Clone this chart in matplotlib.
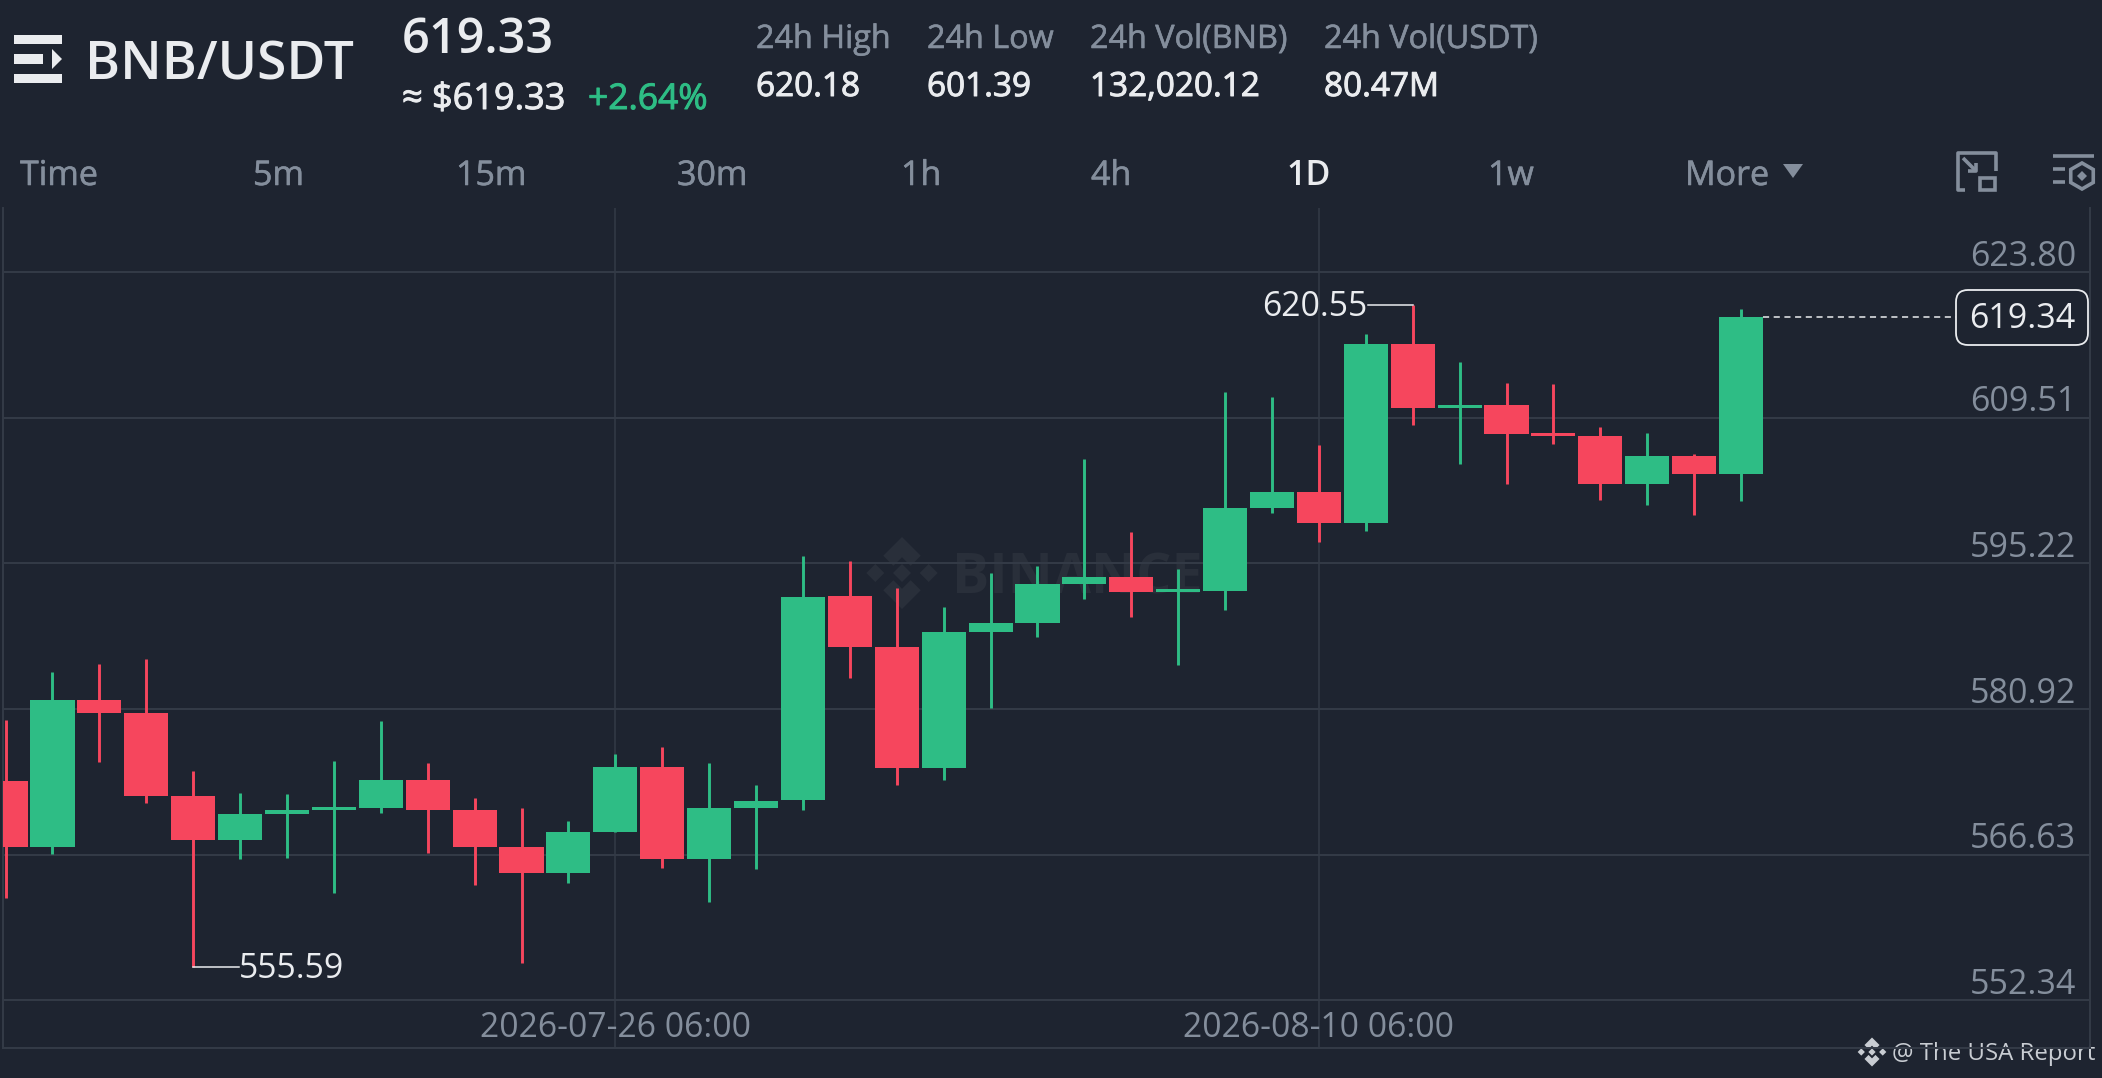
import matplotlib
matplotlib.use("Agg")
import matplotlib.pyplot as plt
import matplotlib.patheffects as pe
from matplotlib.patches import Polygon, Rectangle, FancyBboxPatch, RegularPolygon
from matplotlib.transforms import ScaledTranslation

# candles, oldest first
opens = [573.85, 567.40, 581.83, 580.52, 572.38, 568.03, 570.61, 570.97, 571.23, 573.92,
         571.03, 567.34, 564.85, 568.87, 575.25, 566.19, 571.23, 571.96, 592.00, 586.97,
         575.10, 588.44, 589.33, 593.15, 593.84, 592.37, 592.52, 600.64, 602.21, 599.20,
         616.70, 610.45, 610.72, 607.98, 607.74, 602.97, 605.77, 603.95]
closes = [567.40, 581.80, 580.52, 572.38, 568.03, 570.61, 571.00, 571.30, 573.92, 571.00,
          567.34, 564.85, 568.87, 575.25, 566.19, 571.23, 571.92, 591.94, 586.97, 575.10,
          588.44, 589.33, 593.15, 593.84, 592.37, 592.66, 600.64, 602.21, 599.20, 616.70,
          610.45, 610.75, 607.93, 607.68, 602.97, 605.77, 603.95, 619.34]
highs = [579.84, 584.58, 585.30, 585.82, 574.80, 572.67, 572.57, 575.84, 579.71, 575.59,
         572.18, 571.23, 569.92, 576.53, 577.16, 575.59, 573.49, 595.96, 595.47, 592.76,
         590.95, 594.29, 594.95, 605.48, 598.28, 594.62, 611.99, 611.53, 606.79, 617.72,
         620.55, 614.97, 612.88, 612.81, 608.56, 607.97, 605.97, 620.17]
lows = [562.34, 566.66, 575.74, 571.66, 555.59, 566.17, 566.26, 562.89, 570.68, 566.81,
        563.64, 555.96, 563.84, 568.87, 565.31, 561.95, 565.18, 571.00, 583.96, 573.46,
        573.95, 580.98, 587.95, 591.74, 589.91, 585.26, 590.63, 600.18, 597.30, 598.41,
        608.81, 604.99, 602.97, 606.92, 601.43, 600.96, 599.95, 601.33]

ytick_vals = [623.80, 609.51, 595.22, 580.92, 566.63, 552.34]
ytick_labels = ["623.80", "609.51", "595.22", "580.92", "566.63", "552.34"]
xtick_idx = [13, 28]
xtick_labels = ["2026-07-26 06:00", "2026-08-10 06:00"]
high_idx, high_val = 30, 620.55
low_idx, low_val = 4, 555.59
last_idx, last_val = 37, 619.34

tabs = ["Time", "5m", "15m", "30m", "1h", "4h", "1D", "1w", "More"]
tab_x = [20, 253, 456, 677, 901, 1091, 1286, 1488, 1685]
stat_names = ["24h High", "24h Low", "24h Vol(BNB)", "24h Vol(USDT)"]
stat_vals = ["620.18", "601.39", "132,020.12", "80.47M"]
stat_x = [756, 927, 1090, 1324]

BG = "#1e2430"
GRID = "#343b47"
GREEN = "#2ebd85"
RED = "#f6465d"
WHITE = "#eaecef"
GREY = "#848e9c"

plt.rcParams["font.family"] = ["Open Sans", "DejaVu Sans"]

W, H = 2102, 1078
fig = plt.figure(figsize=(W / 100, H / 100), dpi=100, facecolor=BG)

# page furniture in pixel coords, sits under the chart
ui = fig.add_axes([0, 0, 1, 1], zorder=0)
ui.set_xlim(0, W)
ui.set_ylim(H, 0)
ui.axis("off")


def logo(cx, cy, r, col):
    top = [(0, 1), (0.52, 0.48), (0.24, 0.2), (0, 0.44), (-0.24, 0.2), (-0.52, 0.48)]
    for sign in (1, -1):
        ui.add_patch(Polygon([(cx + a * r, cy - sign * b * r) for a, b in top], fc=col, ec="none"))
    for dx in (-0.74, 0, 0.74):
        ui.add_patch(Polygon([(cx + dx * r, cy - 0.25 * r), (cx + (dx + 0.25) * r, cy),
                              (cx + dx * r, cy + 0.25 * r), (cx + (dx - 0.25) * r, cy)],
                             fc=col, ec="none"))


def fat(col, w=0.7):
    # open sans regular is a bit thin next to the app font
    return [pe.withStroke(linewidth=w, foreground=col)]


# watermark
logo(902, 573, 36, "#292f3a")
ui.text(952, 593, "BINANCE", fontsize=40, fontweight="bold", color="#292f3a", va="baseline")

# menu icon
ui.add_patch(Rectangle((14, 35), 48, 9, fc=WHITE, ec="none"))
ui.add_patch(Rectangle((14, 54), 29, 10, fc=WHITE, ec="none"))
ui.add_patch(Polygon([(52, 49), (62, 59), (52, 69)], fc=WHITE, ec="none"))
ui.add_patch(Rectangle((14, 74), 48, 9, fc=WHITE, ec="none"))

ui.text(85, 79, "BNB/USDT", fontsize=38.3, fontweight="semibold", color=WHITE, va="baseline")
ui.text(402, 53, "619.33", fontsize=35, fontweight="semibold", color=WHITE, va="baseline")
ui.text(402, 109, "≈ $619.33", fontsize=26, color=WHITE, va="baseline", path_effects=fat(WHITE))
ui.text(588, 109, "+2.64%", fontsize=25.5, color=GREEN, va="baseline", path_effects=fat(GREEN))

for x, name, val in zip(stat_x, stat_names, stat_vals):
    ui.text(x, 48, name, fontsize=23.3, color=GREY, va="baseline", path_effects=fat(GREY, 0.4))
    ui.text(x, 96, val, fontsize=24, color=WHITE, va="baseline", path_effects=fat(WHITE))

for x, t in zip(tab_x, tabs):
    if t == "1D":
        ui.text(x, 185, t, fontsize=24.5, fontweight="semibold", color=WHITE, va="baseline")
    else:
        ui.text(x, 185, t, fontsize=24.5, color=GREY, va="baseline", path_effects=fat(GREY, 0.4))
ui.add_patch(Polygon([(1783, 164), (1803, 164), (1793, 178)], fc=GREY, ec="none"))

# top right icons
ic = dict(color=GREY, lw=2.6, solid_capstyle="butt")
ui.plot([1965, 1957.5, 1957.5, 1996, 1996], [190, 190, 153, 153, 171], **ic)
ui.add_patch(Rectangle((1980, 178), 15, 12, fc="none", ec=GREY, lw=2.6))
ui.plot([1963, 1976], [158, 171], **ic)
ui.plot([1968, 1976, 1976], [171, 171, 163], **ic)
ui.plot([2053, 2094], [155.5, 155.5], **ic)
ui.plot([2053, 2065], [169, 169], **ic)
ui.plot([2053, 2065], [182, 182], **ic)
ui.add_patch(RegularPolygon((2082, 176), 6, radius=13, fc="none", ec=GREY, lw=2.6))
ui.add_patch(RegularPolygon((2082, 176), 4, radius=5, fc=GREY, ec="none"))

# last price box
ui.add_patch(FancyBboxPatch((1964, 298), 116, 39, boxstyle="round,pad=8,rounding_size=12",
                            fc=BG, ec=WHITE, lw=1.3))
ui.text(2022, 328, f"{last_val:.2f}", fontsize=24.5, color=WHITE, ha="center", va="baseline")

logo(1872, 1052, 14.5, "#c8ccd2")
ui.text(1892, 1060, "@ The USA Report", fontsize=17.3, color="#c8ccd2", va="baseline")

# price chart
ax = fig.add_axes([3 / W, 30 / H, 2087 / W, 840 / H], zorder=1)
ax.patch.set_visible(False)
ax.set_xlim(-0.055, 44.44)
ax.set_ylim(547.65, 630.08)

for i in range(len(opens)):
    col = GREEN if closes[i] >= opens[i] else RED
    ax.vlines(i, lows[i], highs[i], color=col, lw=2.1, zorder=3)
    ax.bar(i, abs(closes[i] - opens[i]), bottom=min(opens[i], closes[i]), width=0.94,
           color=col, linewidth=0, zorder=3)

ax.set_yticks(ytick_vals)
ax.set_yticklabels(ytick_labels)
ax.set_xticks(xtick_idx)
ax.set_xticklabels(xtick_labels)
ax.yaxis.tick_right()
ax.tick_params(axis="y", length=0, pad=-10, labelsize=24.5, labelcolor=GREY)
ax.tick_params(axis="x", length=0, pad=-8, labelsize=24.2, labelcolor=GREY)
up = ScaledTranslation(0, 0.063, fig.dpi_scale_trans)
for lab in ax.get_yticklabels():
    lab.set_ha("right")
    lab.set_va("baseline")
    lab.set_transform(lab.get_transform() + up)
for lab in ax.get_xticklabels():
    lab.set_va("baseline")
ax.grid(True, axis="y", color=GRID, lw=1.4, zorder=1)
ax.grid(True, axis="x", color=GRID, lw=1.1, zorder=1)
ax.set_axisbelow(True)
ax.spines["top"].set_visible(False)
for s in ["left", "right", "bottom"]:
    ax.spines[s].set_color(GRID)
    ax.spines[s].set_linewidth(1.4)

# high / low markers
ax.plot([high_idx, high_idx - 0.96], [high_val, high_val], color=WHITE, lw=1.1, zorder=4)
ax.text(high_idx - 0.96, high_val - 1.08, f"{high_val:.2f}", fontsize=24.3, color=WHITE,
        ha="right", va="baseline", zorder=5)
ax.plot([low_idx, low_idx + 0.98], [low_val, low_val], color=WHITE, lw=1.1, zorder=4)
ax.text(low_idx + 0.98, low_val - 1.08, f"{low_val:.2f}", fontsize=24.3, color=WHITE,
        ha="left", va="baseline", zorder=5)

# dashed last price
ax.plot([last_idx + 0.47, 41.58], [last_val, last_val], color=WHITE, lw=1.1,
        dashes=(4, 3), zorder=4)

fig.savefig("out.png", dpi=100, facecolor=BG)
